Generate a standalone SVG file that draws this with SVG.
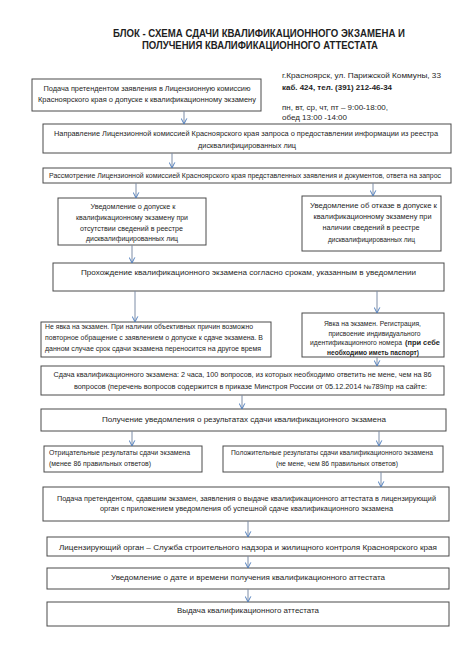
<svg xmlns="http://www.w3.org/2000/svg" width="474" height="669" viewBox="0 0 474 669">
<style>
.box{fill:#fff;stroke:#4a4a4a;stroke-width:1}
text{font-family:"Liberation Sans",Arial,sans-serif;fill:#1e1e1e}
.t{font-size:6.3px}
.m{font-size:7.4px}
.c{text-anchor:middle}
.b{font-weight:bold}
.ttl{font-size:10px;font-weight:bold;text-anchor:middle}
.con line{stroke:#7d8ca6;stroke-width:1;marker-end:url(#ah)}
</style>
<defs>
<marker id="ah" markerUnits="userSpaceOnUse" viewBox="0 0 10 10" refX="9" refY="5" markerWidth="7" markerHeight="7" orient="auto">
<path d="M1,1 L9,5 L1,9" fill="none" stroke="#4f7dbb" stroke-width="1.4"/>
</marker>
</defs>
<rect width="474" height="669" fill="#fff"/>
<g id="title">
<text class="ttl" x="259" y="37" textLength="292" lengthAdjust="spacingAndGlyphs">БЛОК - СХЕМА СДАЧИ КВАЛИФИКАЦИОННОГО ЭКЗАМЕНА И</text>
<text class="ttl" x="260" y="49" textLength="236" lengthAdjust="spacingAndGlyphs">ПОЛУЧЕНИЯ КВАЛИФИКАЦИОННОГО АТТЕСТАТА</text>
</g>
<g id="address">
<text class="m" x="282" y="77.5" textLength="159" lengthAdjust="spacingAndGlyphs">г.Красноярск, ул. Парижской Коммуны, 33</text>
<text class="m b" x="282" y="89.5" textLength="110" lengthAdjust="spacingAndGlyphs">каб. 424, тел. (391) 212-46-34</text>
<text class="m" x="282" y="109.5" textLength="106" lengthAdjust="spacingAndGlyphs">пн, вт, ср, чт, пт – 9:00-18:00,</text>
<text class="m" x="282" y="119.5" textLength="65" lengthAdjust="spacingAndGlyphs">обед 13:00 -14:00</text>
</g>
<g id="n1">
<rect class="box" x="32" y="79" width="229" height="32"/>
<text class="t c" x="147" y="91.3" textLength="207" lengthAdjust="spacingAndGlyphs">Подача претендентом заявления в Лицензионную комиссию</text>
<text class="t c" x="147" y="102.3" textLength="218" lengthAdjust="spacingAndGlyphs">Красноярского края о допуске к квалификационному экзамену</text>
</g>
<g id="n2">
<rect class="box" x="43" y="124" width="408" height="29"/>
<text class="t c" x="246" y="136.3" textLength="384" lengthAdjust="spacingAndGlyphs">Направление Лицензионной комиссией Красноярского края  запроса о предоставлении информации из реестра</text>
<text class="t c" x="247" y="148.3" textLength="98" lengthAdjust="spacingAndGlyphs">дисквалифицированных лиц</text>
</g>
<g id="n3">
<rect class="box" x="43" y="168" width="408" height="15"/>
<text class="t c" x="245" y="177.6" textLength="392" lengthAdjust="spacingAndGlyphs">Рассмотрение Лицензионной комиссией Красноярского края представленных заявления и документов, ответа на запрос</text>
</g>
<g id="n4">
<rect class="box" x="58" y="198" width="148" height="47"/>
<text class="t c" x="133" y="209.3" textLength="85" lengthAdjust="spacingAndGlyphs">Уведомление о допуске к</text>
<text class="t c" x="132" y="220.3" textLength="112" lengthAdjust="spacingAndGlyphs">квалификационному экзамену при</text>
<text class="t c" x="131.5" y="230.5" textLength="103" lengthAdjust="spacingAndGlyphs">отсутствии сведений в реестре</text>
<text class="t c" x="132" y="241.3" textLength="92" lengthAdjust="spacingAndGlyphs">дисквалифицированных лиц</text>
</g>
<g id="n5">
<rect class="box" x="302" y="196" width="139" height="55"/>
<text class="t c" x="373.5" y="208.3" textLength="127" lengthAdjust="spacingAndGlyphs">Уведомление об отказе в допуске к</text>
<text class="t c" x="372.5" y="219.3" textLength="118" lengthAdjust="spacingAndGlyphs">квалификационному экзамену при</text>
<text class="t c" x="371" y="230.3" textLength="97" lengthAdjust="spacingAndGlyphs">наличии сведений в реестре</text>
<text class="t c" x="371.5" y="242.3" textLength="87" lengthAdjust="spacingAndGlyphs">дисквалифицированных лиц</text>
</g>
<g id="n6">
<rect class="box" x="53" y="263" width="391" height="28"/>
<text class="m c" x="248.5" y="274.7" textLength="335" lengthAdjust="spacingAndGlyphs">Прохождение квалификационного экзамена согласно срокам, указанным в уведомлении</text>
</g>
<g id="n7">
<rect class="box" x="41" y="322" width="230" height="35"/>
<text class="t" x="45" y="329.3" textLength="208" lengthAdjust="spacingAndGlyphs">Не явка на экзамен. При наличии объективных причин возможно</text>
<text class="t" x="45" y="340.3" textLength="218" lengthAdjust="spacingAndGlyphs">повторное обращение с заявлением о допуске к сдаче экзамена. В</text>
<text class="t" x="45" y="351.3" textLength="216" lengthAdjust="spacingAndGlyphs">данном случае срок сдачи экзамена переносится на другое время</text>
</g>
<g id="n8">
<rect class="box" x="302" y="313" width="142" height="44"/>
<text class="t c" x="372.5" y="326.3" textLength="97" lengthAdjust="spacingAndGlyphs">Явка на экзамен. Регистрация,</text>
<text class="t c" x="374.5" y="335.8" textLength="92" lengthAdjust="spacingAndGlyphs">присвоение индивидуального</text>
<text class="t" x="310" y="345.3" textLength="92" lengthAdjust="spacingAndGlyphs">идентификационного номера</text>
<text class="t b" x="405" y="345.3" textLength="35" lengthAdjust="spacingAndGlyphs">(при себе</text>
<text class="t c b" x="373" y="354.8" textLength="92" lengthAdjust="spacingAndGlyphs">необходимо иметь паспорт)</text>
</g>
<g id="n9">
<rect class="box" x="41" y="366" width="403" height="29"/>
<text class="t c" x="242.5" y="377.3" textLength="378" lengthAdjust="spacingAndGlyphs">Сдача квалификационного экзамена: 2 часа, 100 вопросов, из которых необходимо ответить не мене, чем на 86</text>
<text class="t c" x="250.5" y="389.3" textLength="353" lengthAdjust="spacingAndGlyphs">вопросов (перечень вопросов содержится в приказе Минстроя России от 05.12.2014 №789/пр на сайте:</text>
</g>
<g id="n10">
<rect class="box" x="41" y="409" width="405" height="22"/>
<text class="m c" x="244" y="421.7" textLength="284" lengthAdjust="spacingAndGlyphs">Получение уведомления о результатах сдачи квалификационного экзамена</text>
</g>
<g id="n11">
<rect class="box" x="44" y="446" width="158" height="26"/>
<text class="t" x="49" y="455.3" textLength="141" lengthAdjust="spacingAndGlyphs">Отрицательные результаты сдачи экзамена</text>
<text class="t" x="49" y="466.3" textLength="102" lengthAdjust="spacingAndGlyphs">(менее 86 правильных ответов)</text>
</g>
<g id="n12">
<rect class="box" x="223" y="446" width="220" height="26"/>
<text class="t c" x="332" y="455.3" textLength="202" lengthAdjust="spacingAndGlyphs">Положительные результаты сдачи квалификационного экзамена</text>
<text class="t c" x="337" y="466.3" textLength="122" lengthAdjust="spacingAndGlyphs">(не мене, чем 86 правильных ответов)</text>
</g>
<g id="n13">
<rect class="box" x="43" y="487" width="406" height="34"/>
<text class="t c" x="246.5" y="501.3" textLength="379" lengthAdjust="spacingAndGlyphs">Подача претендентом, сдавшим экзамен, заявления о выдаче квалификационного аттестата в лицензирующий</text>
<text class="t c" x="246.5" y="510.8" textLength="293" lengthAdjust="spacingAndGlyphs">орган с приложением уведомления об успешной сдаче квалификационного экзамена</text>
</g>
<g id="n14">
<rect class="box" x="47" y="537" width="402" height="19"/>
<text class="m c" x="248" y="549.7" textLength="378" lengthAdjust="spacingAndGlyphs">Лицензирующий орган – Служба строительного надзора и жилищного контроля Красноярского края</text>
</g>
<g id="n15">
<rect class="box" x="47" y="568" width="402" height="21"/>
<text class="m c" x="248" y="579.7" textLength="274" lengthAdjust="spacingAndGlyphs">Уведомление о дате и времени получения квалификационного аттестата</text>
</g>
<g id="n16">
<rect class="box" x="47" y="602" width="402" height="24"/>
<text class="m c" x="248" y="612.7" textLength="142" lengthAdjust="spacingAndGlyphs">Выдача квалификационного аттестата</text>
</g>
<g id="connectors" class="con">
<line x1="184" y1="111" x2="184" y2="124"/>
<line x1="172" y1="153" x2="172" y2="168"/>
<line x1="136" y1="183" x2="136" y2="198"/>
<line x1="373" y1="183" x2="373" y2="196"/>
<line x1="132" y1="245" x2="132" y2="263"/>
<line x1="135" y1="291" x2="135" y2="322"/>
<line x1="377" y1="291" x2="377" y2="313"/>
<line x1="377" y1="357" x2="377" y2="366"/>
<line x1="242" y1="395" x2="242" y2="409"/>
<line x1="132" y1="431" x2="132" y2="446"/>
<line x1="379" y1="431" x2="379" y2="446"/>
<line x1="381" y1="472" x2="381" y2="487"/>
<line x1="248" y1="521" x2="248" y2="537"/>
<line x1="248" y1="556" x2="248" y2="568"/>
<line x1="248" y1="589" x2="248" y2="602"/>
</g>
</svg>
